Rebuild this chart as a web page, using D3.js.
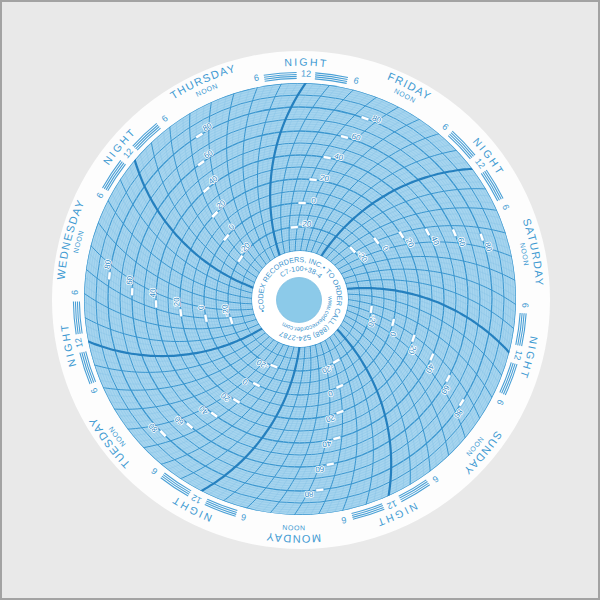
<!DOCTYPE html>
<html><head><meta charset="utf-8">
<script src="https://cdn.jsdelivr.net/npm/d3@7"></script>
<style>html,body{margin:0;padding:0;background:#e9e9e9;}svg{display:block}</style>
</head><body>
<svg id="c" width="600" height="600"></svg>
<script>
// ---- data ----
const days = ["FRIDAY","SATURDAY","SUNDAY","MONDAY","TUESDAY","WEDNESDAY","THURSDAY"];
const boundaryLabel = "NIGHT";
const hourMarks = [ {h:0, t:"12"}, {h:6, t:"6"}, {h:12, t:"NOON"}, {h:18, t:"6"} ];
const valueDomain = [-40, 100];
const valueLabels = [-20, 0, 20, 40, 60, 80];
const hubOuterText = "•CODEX RECORDERS, INC.• TO ORDER CALL (888) 524-2787";
const hubTopText = "C7-100+38-4";
const hubInnerText = "www.codexrecorder.com";
const totalHours = 168;

// ---- geometry ----
const cx = 300, cy = 299, R = 216, R0 = 48, D = 195, rot = 1.5;
const svg = d3.select("#c");
const rScale = d3.scaleLinear().domain(valueDomain).range([R0, R]);
const tScale = d3.scaleLinear().domain([0, totalHours]).range([rot, 360 + rot]);
const blue = "#3a96cf", dark = "#2580bf", fine = "#86c3e6";

function polar(r, deg){ const a = deg*Math.PI/180; return [cx + r*Math.sin(a), cy - r*Math.cos(a)]; }
function phi(r){ return Math.acos(r/(2*D))*180/Math.PI; }
function arcAngle(thRim, r){ return thRim + phi(R) - phi(r); }
const line = d3.line().curve(d3.curveBasis);

// frame
svg.append("rect").attr("x",1).attr("y",1).attr("width",598).attr("height",598)
  .attr("fill","#e9e9e9").attr("stroke","#a3a3a3").attr("stroke-width",2);
// paper
svg.append("circle").attr("cx",301).attr("cy",300).attr("r",249).attr("fill","#fdfdfd");
// face
svg.append("defs").append("clipPath").attr("id","face").append("circle")
  .attr("cx",cx).attr("cy",cy).attr("r",R);
svg.append("circle").attr("cx",cx).attr("cy",cy).attr("r",R).attr("fill","#a7d5ef");
const g = svg.append("g").attr("clip-path","url(#face)");

// value circles
const vals = d3.range(valueDomain[0], valueDomain[1]+1, 2);
g.selectAll("circle.v").data(vals).join("circle")
  .attr("cx",cx).attr("cy",cy).attr("r",d=>rScale(d)).attr("fill","none")
  .attr("stroke",d=> d%10===0 ? blue : fine)
  .attr("stroke-width",d=> d%20===0 ? 1.3 : d%10===0 ? 1.0 : 0.45);

// time arcs
const hours = d3.range(0, totalHours);
const rs = d3.range(0, 41).map(i => R0 - 2 + (R + 4 - R0)*i/40);
const sorted = hours.slice().sort((a,b)=> (a%3===0) - (b%3===0) || (a%24===0) - (b%24===0));
g.selectAll("path.t").data(sorted).join("path")
  .attr("d", h => line(rs.map(r => polar(r, arcAngle(tScale(h), r)))))
  .attr("fill","none")
  .attr("stroke", h => h%24===0 ? dark : h%3===0 ? blue : fine)
  .attr("stroke-width", h => h%24===0 ? 2.2 : h%3===0 ? 1.0 : 0.45);

// value labels along each day's noon arc
const labelData = [];
days.forEach((d,i)=> valueLabels.forEach(v=> labelData.push({day:i, v})));
const lg = svg.append("g");
labelData.forEach(o=>{
  const r = rScale(o.v);
  const th = arcAngle(tScale(o.day*24 + 12), r);
  const thBox = th - (11/r)*180/Math.PI;
  const pb = polar(r, thBox);
  lg.append("rect").attr("x",-4).attr("y",-1.6).attr("width",8).attr("height",3.2)
    .attr("fill","#ffffff").attr("stroke","#4a9fd5").attr("stroke-width",0.5)
    .attr("transform",`translate(${pb[0]},${pb[1]}) rotate(${thBox})`);
  const pl = polar(r + 3.5, th);
  lg.append("text").text(o.v).attr("text-anchor","middle").attr("dy","0.35em")
    .attr("font-family","Liberation Sans, Arial, sans-serif").attr("font-size",8)
    .attr("fill","#2a88c6").attr("stroke","#ffffff").attr("stroke-width",1.6)
    .attr("paint-order","stroke")
    .attr("transform",`translate(${pl[0]},${pl[1]}) rotate(${th})`);
});

// ---- rim text via text paths ----
const defs = svg.select("defs");
function ringPath(id, r){
  const p = a => polar(r, a).join(",");
  defs.append("path").attr("id", id)
    .attr("d", `M${p(-180)} A${r},${r} 0 0 1 ${p(0)} A${r},${r} 0 0 1 ${p(180)} A${r},${r} 0 0 1 ${p(360)} A${r},${r} 0 0 1 ${p(540)}`);
}
function ringText(id, r, deg, txt, size, spacing, anchor, color){
  const off = (deg + 180) * Math.PI * r / 180;
  svg.append("text").attr("font-family","Liberation Sans, Arial, sans-serif")
    .attr("font-size", size).attr("letter-spacing", spacing).attr("fill", color || "#3d9ad2")
    .attr("dy","0.35em")
    .append("textPath").attr("href","#"+id).attr("startOffset", off)
    .attr("text-anchor", anchor || "middle").text(txt);
}
ringPath("rNight", 237); ringPath("rDay", 240); ringPath("rHour", 225.5); ringPath("rNoon", 229);
ringPath("rHubO", 39.5); ringPath("rHubI", 30.5);

days.forEach((d,i)=>{
  const t0 = i*24;
  ringText("rNight", 237, tScale(t0), boundaryLabel, 10.5, 2.4);
  ringText("rDay", 240, tScale(t0+12), d, 11, 1.4);
  hourMarks.forEach(m=>{
    if (m.t === "NOON") ringText("rNoon", 229, tScale(t0+m.h), m.t, 7, 0.6);
    else ringText("rHour", 225.5, tScale(t0+m.h), m.t, 9, 0);
  });
  // night bars
  [[-5,-1.1],[1.1,5]].forEach(([a,b])=>{
    [220.6,222.6,224.6,226.6].forEach(rr=>{
      const pa = polar(rr, tScale(t0+a)), pb = polar(rr, tScale(t0+b));
      svg.append("path").attr("d",`M${pa} A${rr},${rr} 0 0 1 ${pb}`)
        .attr("fill","none").attr("stroke","#4aa0d6").attr("stroke-width",1.1);
    });
  });
});

// ---- hub ----
svg.append("circle").attr("cx",cx).attr("cy",cy).attr("r",R0).attr("fill","#ffffff");
ringText("rHubO", 39.5, -110, hubOuterText, 7.2, 0.25, "start", "#3a92cc");
ringText("rHubI", 30.5, 2, hubTopText, 7, 0.3, "middle", "#3a92cc");
ringText("rHubI", 30.5, 150, hubInnerText, 6.2, 0.1, "middle", "#3a92cc");
svg.append("circle").attr("cx",cx-1).attr("cy",cy+1).attr("r",22.5).attr("fill","#8ccae9")
  .attr("stroke","#7dbfe2").attr("stroke-width",0.8);
</script>
</body></html>
